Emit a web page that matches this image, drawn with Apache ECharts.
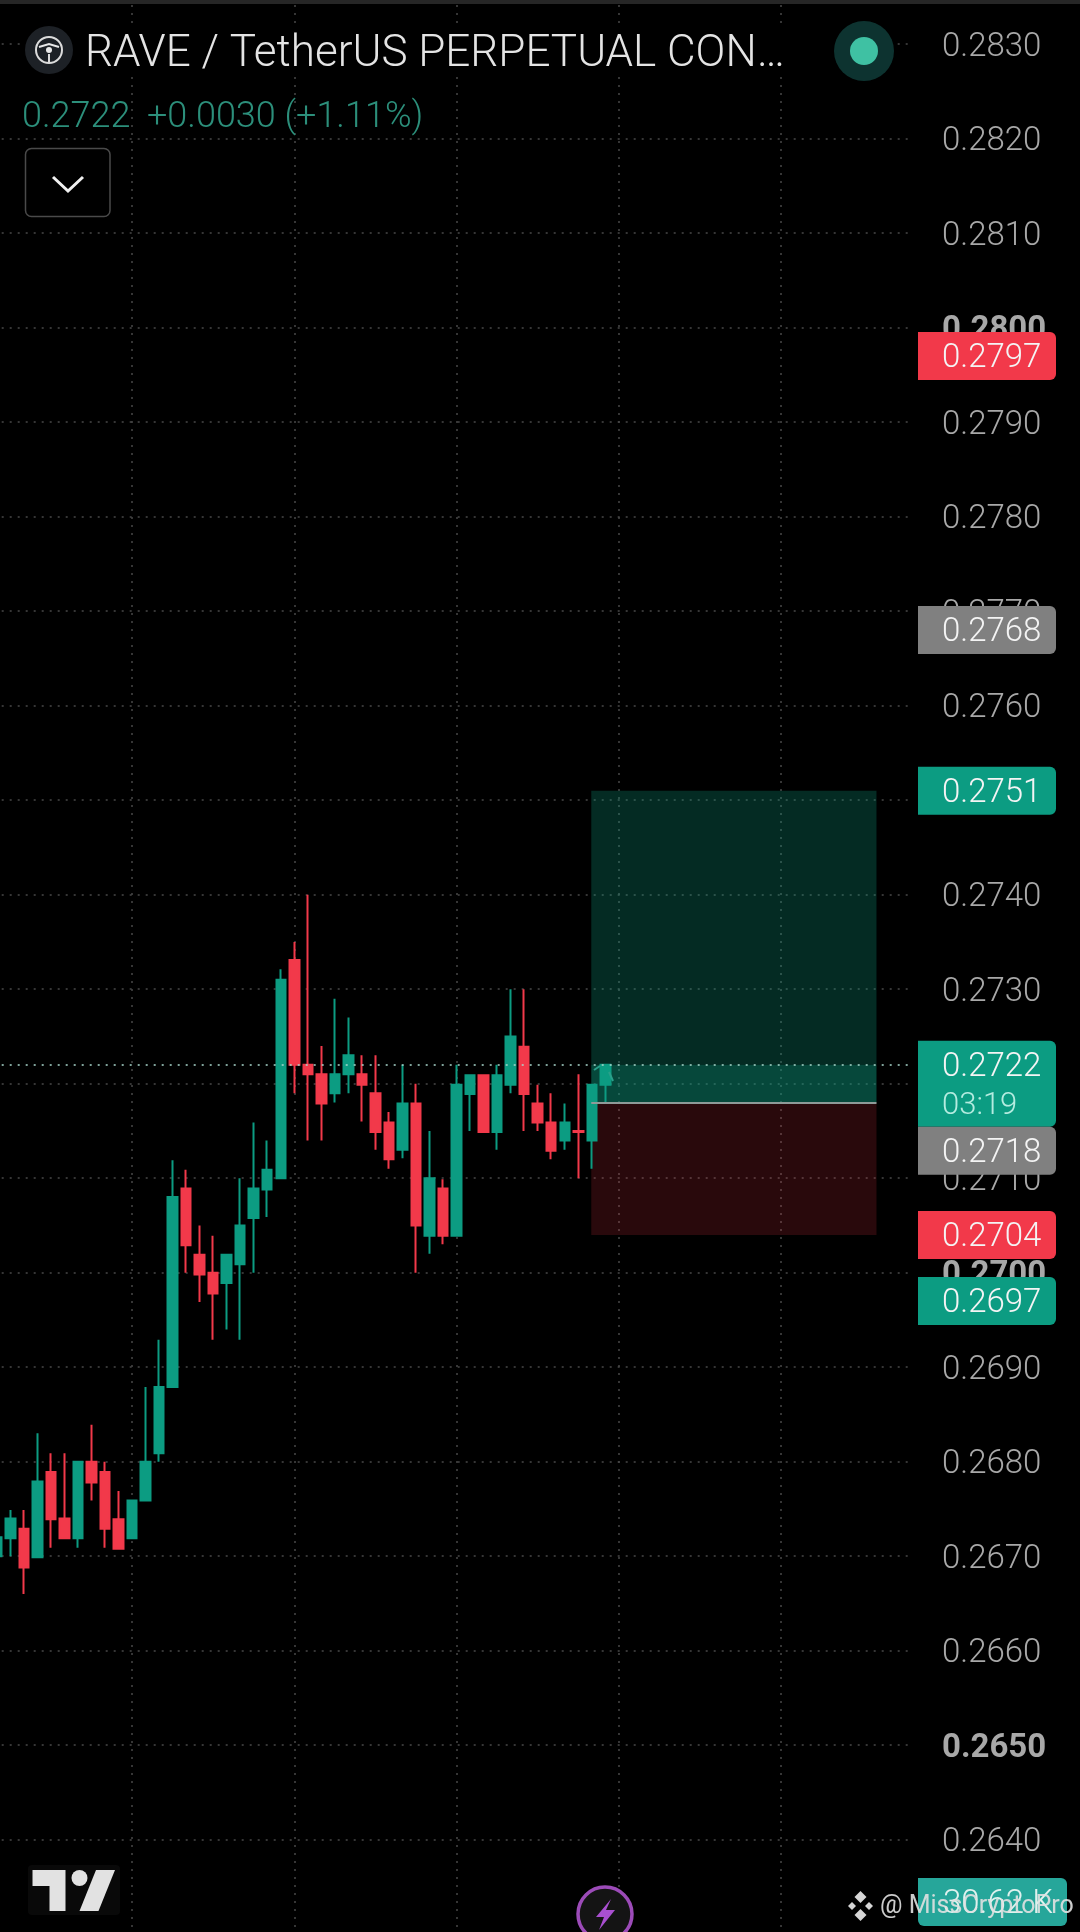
<!DOCTYPE html>
<html>
<head>
<meta charset="utf-8">
<style>html,body{margin:0;padding:0;background:#000}#c{width:1080px;height:1932px}</style>
<script src="https://cdn.jsdelivr.net/npm/echarts@6/dist/echarts.min.js"></script>
</head>
<body>
<div id="c"></div>
<script>
// Candles, left to right. Vertical gridlines fall on every twelfth bar.
const barIndex = [2,3,4,5,6,7,8,9,10,11,12,13,14,15,16,17,18,19,20,21,22,23,24,25,26,27,28,29,30,31,32,33,34,35,36,37,38,39,40,41,42,43,44,45,46,47];
const opens  = [.2670,.26719,.26729,.26699,.26789,.26740,.26719,.2680,.26789,.26739,.26719,.26759,.26809,.26879,.27089,.27019,.2700,.26989,.27009,.27058,.27088,.27100,.27331,.27220,.27210,.27190,.27210,.27210,.2719,.27159,.2713,.27179,.27039,.27089,.27039,.27189,.27209,.27149,.27199,.27239,.27179,.27159,.2714,.2715,.2714,.27199];
const closes = [.2672,.26740,.26688,.26779,.26739,.26719,.2680,.26778,.26729,.26708,.26759,.2680,.26879,.27080,.27029,.26998,.26978,.27019,.2705,.27089,.27109,.27310,.27220,.27210,.27179,.27210,.27230,.27199,.27149,.2712,.27179,.2705,.2710,.27039,.27199,.27209,.27149,.27209,.2725,.27189,.27159,.27129,.27159,.27149,.27199,.2722];
const lows   = [.26695,.2670,.26660,.26699,.26709,.26719,.26709,.26759,.26709,.26708,.26719,.26759,.2680,.26879,.2700,.26969,.26929,.2694,.26929,.2700,.27059,.2710,.27190,.27140,.27140,.2718,.27190,.2716,.27130,.2711,.27121,.2700,.2702,.2703,.27039,.2715,.27149,.2713,.2719,.2715,.2715,.2712,.2713,.2710,.2711,.27179];
const highs  = [.26725,.26749,.26749,.26830,.26809,.26809,.2680,.26839,.2680,.26769,.26759,.26879,.26929,.27119,.27109,.27050,.27039,.27019,.2710,.27159,.2714,.27321,.27350,.2740,.2724,.27290,.27270,.2723,.2723,.2717,.2722,.2720,.2715,.27099,.2722,.27209,.27209,.2722,.2730,.2730,.27199,.2719,.27179,.2721,.27199,.2722];

// Price axis
const priceMin = 0.263, priceMax = 0.2835, priceStep = 0.001;
const boldPrices = ['0.2800', '0.2700', '0.2650'];

// Long position tool
const positionStart = 45.96, positionEnd = 67.05;
const targetPrice = 0.2751, entryPrice = 0.2718, stopPrice = 0.2704, lastPrice = 0.2722;

// Price tags on the right scale
const tagPrices = [0.2797, 0.2768, 0.2751, 0.2722, 0.2718, 0.2704, 0.2697];
const tagColors = ['#f2394a', '#808080', '#0c9c82', '#0c9c82', '#808080', '#f2394a', '#0c9c82'];
const countdownText = '03:19';
const volumeText = '30.62 K';

const titleText = 'RAVE / TetherUS PERPETUAL CON…';
const priceText = '0.2722';
const changeText = '+0.0030 (+1.11%)';
const watermarkText = '@ MissCryptoPro';

const FONT = 'Roboto';
const UP = '#0c9c82', DOWN = '#f2394a';
const candles = barIndex.map((x, i) => [x, opens[i], closes[i], lows[i], highs[i]]);

const chart = echarts.init(document.getElementById('c'), null, {renderer: 'canvas'});
chart.setOption({
  backgroundColor: '#000',
  animation: false,
  grid: {left: -30.3, width: 943.3, top: -3.05, height: 1937.25, outerBoundsMode: 'none'},
  xAxis: {
    type: 'value', min: 0, max: 69.75, interval: 12,
    axisLine: {show: false}, axisTick: {show: false}, axisLabel: {show: false},
    splitLine: {show: true, showMinLine: false, showMaxLine: false, lineStyle: {color: '#484848', width: 1.5, type: [2, 6]}}
  },
  yAxis: {
    type: 'value', position: 'right', min: priceMin, max: priceMax, interval: priceStep,
    axisLine: {show: false}, axisTick: {show: false},
    splitLine: {show: true, showMinLine: false, showMaxLine: false, lineStyle: {color: '#484848', width: 1.5, type: [2, 6]}},
    axisLabel: {
      showMinLabel: false, showMaxLabel: false, margin: 29, align: 'left',
      formatter: v => { const s = v.toFixed(4); return boldPrices.includes(s) ? '{b|' + s + '}' : '{n|' + s + '}'; },
      rich: {
        n: {fontFamily: FONT, fontWeight: 300, fontSize: 33, color: '#a8a8a8', padding: [7, 0, 0, 0]},
        b: {fontFamily: FONT, fontWeight: 700, fontSize: 33, color: '#a8a8a8', padding: [7, 0, 0, 0]}
      }
    }
  },
  series: [{
    type: 'candlestick',
    barWidth: 10,
    encode: {x: 0, y: [1, 2, 3, 4]},
    itemStyle: {color: UP, color0: DOWN, borderColor: UP, borderColor0: DOWN, borderColorDoji: DOWN, borderWidth: 2},
    data: candles,
    markArea: {
      silent: true,
      data: [
        [{xAxis: positionStart, yAxis: targetPrice, itemStyle: {color: 'rgba(14,160,130,0.27)'}}, {xAxis: positionEnd, yAxis: lastPrice}],
        [{xAxis: positionStart, yAxis: lastPrice, itemStyle: {color: 'rgba(14,160,130,0.45)'}}, {xAxis: positionEnd, yAxis: entryPrice}],
        [{xAxis: positionStart, yAxis: entryPrice, itemStyle: {color: 'rgba(242,54,69,0.17)'}}, {xAxis: positionEnd, yAxis: stopPrice}]
      ]
    },
    markLine: {
      silent: true, symbol: 'none', animation: false,
      label: {show: false},
      data: [
        [{xAxis: 0, yAxis: lastPrice, lineStyle: {color: '#a9d8cd', width: 1.5, type: [2, 6]}}, {xAxis: 69.75, yAxis: lastPrice}],
        [{xAxis: positionStart, yAxis: entryPrice, lineStyle: {color: '#8f9a98', width: 2, type: 'solid'}}, {xAxis: positionEnd, yAxis: entryPrice}]
      ]
    }
  }]
});

// Header, tags and overlays drawn on top of the chart
const g = [];
const text = (x, y, t, size, color, weight, extra) => g.push({type: 'text', z: 20, x, y, style: Object.assign({text: t, fontFamily: FONT, fontSize: size, fontWeight: weight || 300, fill: color, textVerticalAlign: 'middle', verticalAlign: 'middle'}, extra || {})});
const rect = (x, y, w, h, fill, r, z, stroke) => g.push({type: 'rect', z: z || 10, shape: {x, y, width: w, height: h, r: r || 0}, style: {fill, stroke: stroke || null, lineWidth: stroke ? 1.5 : 0}});
const circle = (cx, cy, r, fill, stroke, lw, z) => g.push({type: 'circle', z: z || 11, shape: {cx, cy, r}, style: {fill: fill || 'transparent', stroke: stroke || null, lineWidth: lw || 0}});
const poly = (pts, fill, z) => g.push({type: 'polygon', z: z || 12, shape: {points: pts}, style: {fill}});
const line = (pts, color, lw, z) => g.push({type: 'polyline', z: z || 12, shape: {points: pts}, style: {stroke: color, lineWidth: lw, fill: null}});

// top strip
rect(0, 0, 1080, 4, '#262626', 0, 9);
// title band
rect(24, 28, 871, 46, '#000', 0, 5);
circle(49, 50, 24, '#1d2126');
circle(49, 50, 13, null, '#dcdcdc', 2);
line([[39, 47], [49, 44], [59, 47]], '#e8e8e8', 2);
circle(49, 50, 3, '#e8e8e8');
line([[49, 54], [49, 62]], '#dcdcdc', 2);
text(85, 55, titleText, 44, '#e4e4e4', 300);
circle(864, 51, 30, '#0d3330');
circle(864, 51, 14, '#3fc1a3');
text(22, 118, priceText, 36, '#2c8f7b', 300);
text(147, 118, changeText, 36, '#2c8f7b', 300);
rect(25.5, 148.5, 84.5, 68, '#000', 6, 10, '#4a4a4a');
line([[53, 177], [68, 191], [83, 177]], '#f0f0f0', 3);

// price tags, stacked downward when they would overlap
let prevBottom = -Infinity;
tagPrices.forEach((p, i) => {
  const y = chart.convertToPixel({yAxisIndex: 0}, p);
  const hasCountdown = p === lastPrice;
  const h = hasCountdown ? 86 : 48;
  const top = Math.max(y - 24, prevBottom);
  rect(918, top, 138, h, tagColors[i], [0, 6, 6, 0], 15);
  text(942, top + 27, p.toFixed(4), 33, '#f4f4f4', 300);
  if (hasCountdown) text(942, top + 65, countdownText, 31, '#b5ece0', 300);
  prevBottom = top + h;
});
// countdown arrow by the last bar
line([[594, 1070], [600, 1066]], '#2aa08a', 2);
line([[609, 1072], [613, 1081]], '#2aa08a', 2);

// volume tag and watermark
rect(918, 1878, 149, 48, '#26a69a', [0, 6, 6, 6], 15);
text(943, 1905, volumeText, 33, '#dff2ee', 300);
text(880, 1907, watermarkText, 25, 'rgba(225,225,225,0.9)', 400);
[[860.5, 1897], [852, 1906], [869, 1906], [860.5, 1915]].forEach(c => {
  const s = c[1] === 1906 ? 4 : 6;
  poly([[c[0], c[1] - s], [c[0] + s, c[1]], [c[0], c[1] + s], [c[0] - s, c[1]]], '#d6d6d6', 21);
});

// lightning button
circle(605, 1914, 27, '#141414', '#9c4bb8', 3.5, 12);
poly([[611, 1899], [596, 1917], [604, 1917], [599, 1930], [615, 1910], [606, 1910]], '#a94fd0', 13);

// TradingView logo
rect(28, 1865, 92, 50, '#090909', 4, 9);
poly([[32.5, 1870], [65.5, 1870], [65.5, 1911], [49.5, 1911], [49.5, 1886], [32.5, 1886]], '#e2e2e2');
circle(79.5, 1878, 8, '#e2e2e2');
poly([[96, 1870], [115, 1870], [98.5, 1911], [79.5, 1911]], '#e2e2e2');

chart.setOption({graphic: g});
</script>
</body>
</html>
